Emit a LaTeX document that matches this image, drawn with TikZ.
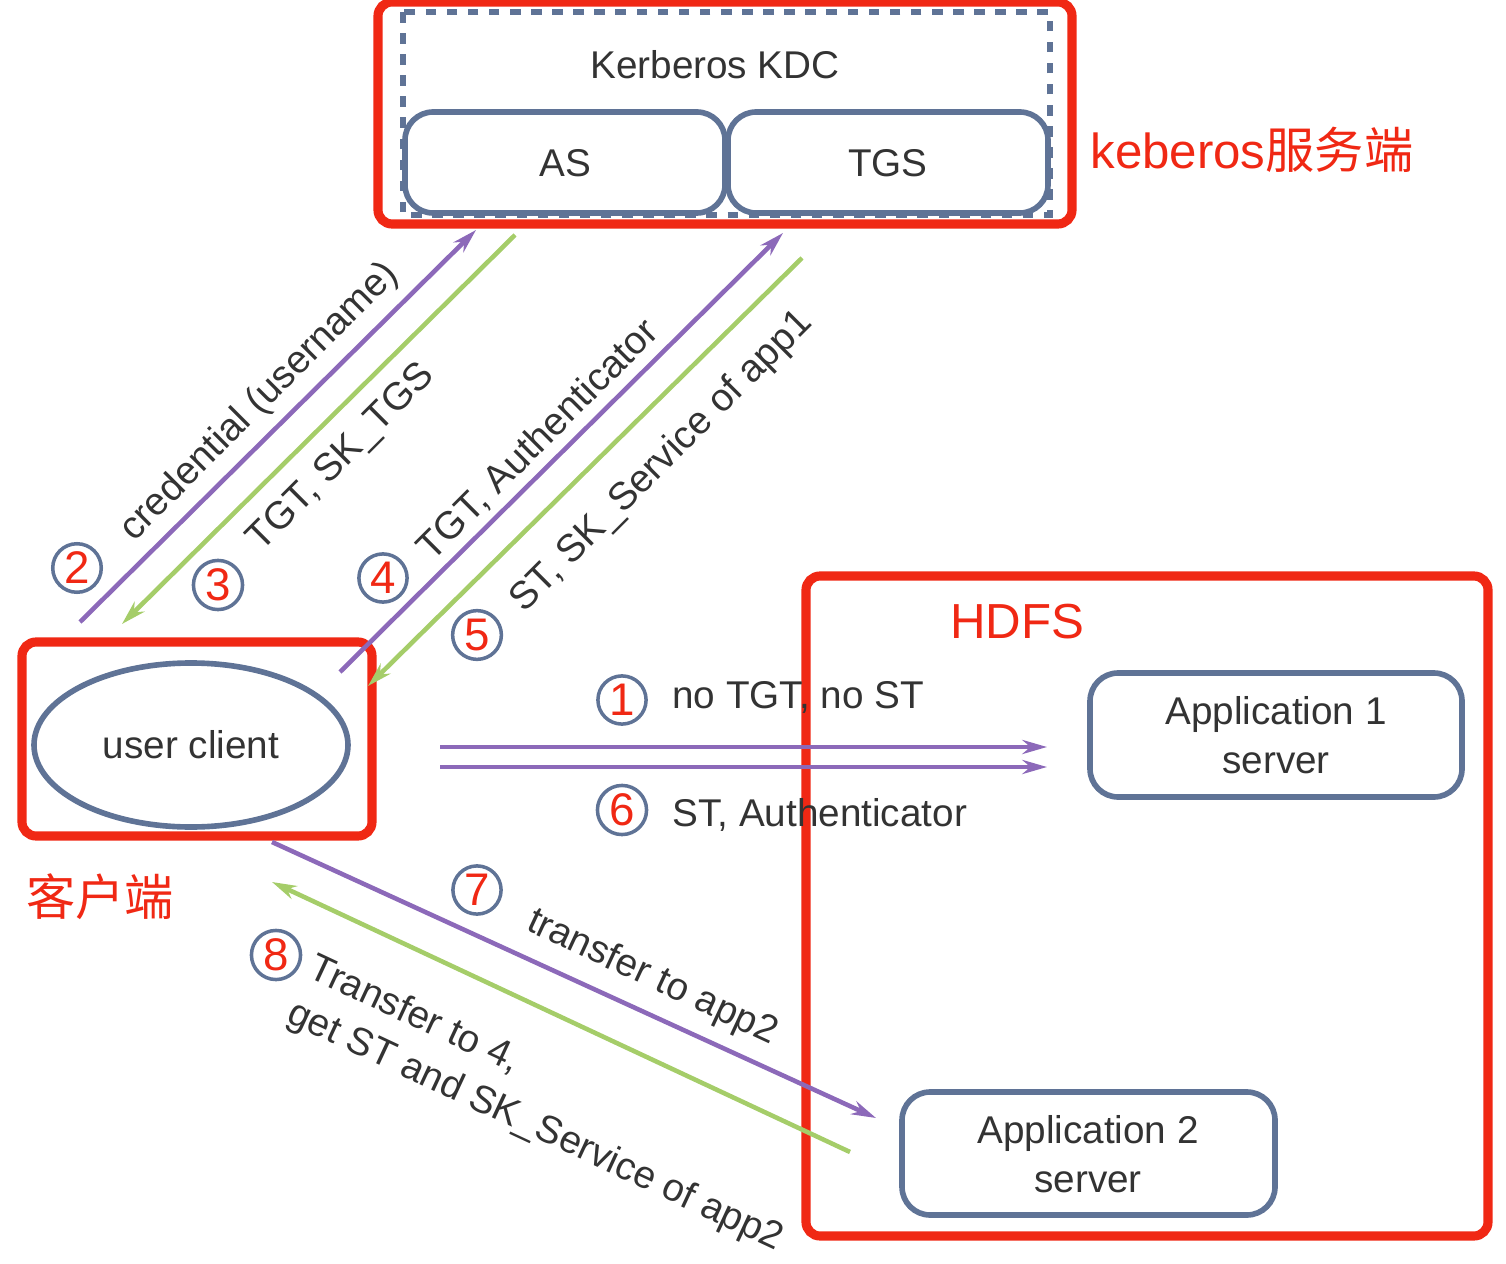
\documentclass[tikz,border=0pt]{standalone}
\usepackage{fontspec}
\setmainfont{Liberation Sans}
\newfontfamily\cjk{Noto Sans CJK SC}
\usetikzlibrary{arrows.meta}
\definecolor{boxc}{RGB}{95,115,150}
\definecolor{purp}{RGB}{140,105,185}
\definecolor{grn}{RGB}{165,205,105}
\definecolor{redc}{RGB}{240,40,20}

\tikzset{
	box/.style={draw=boxc, line width=1.6pt, rounded corners=8pt},
	redbox/.style={draw=redc, line width=2.6pt, rounded corners=4pt},
	txt/.style={font=\fontsize{11pt}{14pt}\selectfont, text=black!80},
	redtxt/.style={font=\fontsize{14pt}{16pt}\selectfont, text=redc},
	num/.style={circle, draw=boxc, line width=1pt, inner sep=0.8pt, minimum size=0.46cm,
		text=redc, font=\fontsize{13pt}{14pt}\selectfont},
	pa/.style={purp, line width=1.3pt, -{Stealth[length=7pt,width=4pt]}},
	ga/.style={grn, line width=1.3pt, -{Stealth[length=7pt,width=4pt]}},
}

\begin{document}
\begin{tikzpicture}[x=0.01cm, y=-0.01cm]

	\useasboundingbox (0,0) rectangle (1506,1264);

	% KDC
	\draw [boxc, dashed, line width=1.6pt] (403,12) rectangle (1050,215);
	\node [txt] (kdc) at (715,65) {Kerberos KDC};
	\draw [box] (405,112) rectangle (725,213);
	\node [txt] (as) at (565,163) {AS};
	\draw [box] (728,112) rectangle (1048,213);
	\node [txt] (tgs) at (888,163) {TGS};
	\draw [redbox] (378,2) rectangle (1072,224);
	\node [redtxt, anchor=west] (kdclbl) at (1078,150) {keberos{\cjk 服务端}};

	% client
	\draw [boxc, line width=1.6pt] (191,745) ellipse [x radius=157, y radius=82];
	\node [txt] (client) at (191,745) {user client};
	\draw [redbox] (22,642) rectangle (372,836);
	\node [redtxt] (clbl) at (100,897) {\cjk 客户端};

	% HDFS
	\draw [box] (1090,673) rectangle (1462,797);
	\node [txt, align=center] (app1) at (1276,735) {Application 1\\server};
	\draw [box] (902,1092) rectangle (1275,1215);
	\node [txt, align=center] (app2) at (1088,1154) {Application 2\\server};
	\draw [redbox] (806,576) rectangle (1488,1236);
	\node [redtxt] (hdfs) at (1017,622) {HDFS};

	% arrow end points
	\coordinate (a2s) at (80,622);   \coordinate (a2e) at (476,230);
	\coordinate (a3s) at (515,235);  \coordinate (a3e) at (122,624);
	\coordinate (a4s) at (340,672);  \coordinate (a4e) at (783,233);
	\coordinate (a5s) at (802,258);  \coordinate (a5e) at (368,686);
	\coordinate (a1s) at (440,747);  \coordinate (a1e) at (1047,747);
	\coordinate (a6s) at (440,767);  \coordinate (a6e) at (1047,767);
	\coordinate (a7s) at (272,842);  \coordinate (a7e) at (876,1118);
	\coordinate (a8s) at (850,1152); \coordinate (a8e) at (272,882);

	\draw [pa] (a2s) -- (a2e);
	\draw [ga] (a3s) -- (a3e);
	\draw [pa] (a4s) -- (a4e);
	\draw [ga] (a5s) -- (a5e);
	\draw [pa] (a1s) -- (a1e);
	\draw [pa] (a6s) -- (a6e);
	\draw [pa] (a7s) -- (a7e);
	\draw [ga] (a8s) -- (a8e);

	% labels
	\node [num] (n2) at (77,568) {2};
	\node [txt, rotate=45] (l2) at (260,402) {credential (username)};
	\node [num] (n3) at (218,585) {3};
	\node [txt, rotate=45] (l3) at (342,458) {TGT, SK\_TGS};
	\node [num] (n4) at (383,578) {4};
	\node [txt, rotate=45] (l4) at (538,440) {TGT, Authenticator};
	\node [num] (n5) at (477,635) {5};
	\node [txt, rotate=45] (l5) at (662,462) {ST, SK\_Service of app1};
	\node [num] (n1) at (622,700) {1};
	\node [txt, anchor=west] (l1) at (660,697) {no TGT, no ST};
	\node [num] (n6) at (622,810) {6};
	\node [txt, anchor=west] (l6) at (660,815) {ST, Authenticator};
	\node [num] (n7) at (477,890) {7};
	\node [txt, rotate=-25] (l7) at (652,978) {transfer to app2};
	\node [num] (n8) at (276,955) {8};
	\node [txt, rotate=-25, align=left, anchor=north west] (l8) at (312,935)
		{Transfer to 4,\\get ST and SK\_Service of app2};

\end{tikzpicture}
\end{document}
